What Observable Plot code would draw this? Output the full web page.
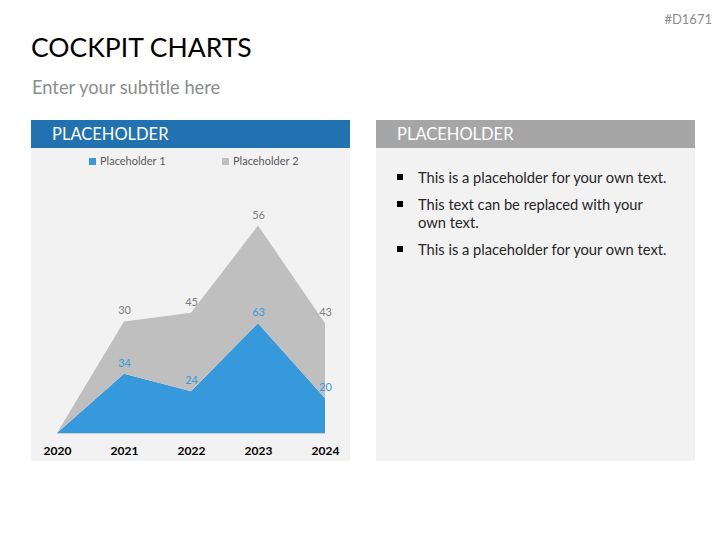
<!DOCTYPE html>
<html>
<head>
<meta charset="utf-8">
<script src="https://cdn.jsdelivr.net/npm/d3@7"></script>
<script src="https://cdn.jsdelivr.net/npm/@observablehq/plot@0.6"></script>
<style>
  html, body { margin: 0; padding: 0; background: #fff; }
  body { width: 727px; height: 545px; position: relative; overflow: hidden; font-family: Lato, "Open Sans", sans-serif; }
  .abs { position: absolute; }
  #code { right: 15px; top: 11px; font-size: 13px; color: #8c8c8c; }
  #title { left: 31px; top: 31px; font-size: 26.5px; color: #000; }
  #subtitle { left: 32px; top: 76px; font-size: 18.3px; color: #8c8c8c; }
  .hdr { top: 120px; height: 28px; width: 319px; color: #fff; font-size: 16.5px; line-height: 28px; box-sizing: border-box; padding-left: 21px; }
  .panel { top: 148px; height: 313px; width: 319px; background: #f2f2f2; }
  #legend { left: 31px; top: 154px; width: 319px; font-size: 11px; color: #595959; }
  #legend span.sw { display: inline-block; width: 7px; height: 7px; margin-right: 4px; vertical-align: 0px; }
  ul { margin: 0; padding: 0 24px 0 0; list-style: none; }
  li { position: relative; padding-left: 42px; font-size: 14.7px; line-height: 18px; color: #262626; margin-bottom: 9px; }
  li::before { content: ""; position: absolute; left: 21px; top: 6px; width: 6px; height: 6px; background: #000; }
</style>
</head>
<body>
<div id="code" class="abs">#D1671</div>
<div id="title" class="abs">COCKPIT CHARTS</div>
<div id="subtitle" class="abs">Enter your subtitle here</div>

<div class="abs hdr" style="left:31px;background:#2271b1;">PLACEHOLDER</div>
<div class="abs panel" style="left:31px;"></div>
<div id="legend" class="abs"></div>
<div id="chart" class="abs" style="left:31px;top:171px;"></div>

<div class="abs hdr" style="left:376px;background:#a6a6a6;">PLACEHOLDER</div>
<div class="abs panel" style="left:376px;">
  <ul style="margin-top:20px;">
    <li>This is a placeholder for your own text.</li>
    <li>This text can be replaced with your own text.</li>
    <li>This is a placeholder for your own text.</li>
  </ul>
</div>

<script>
const years = [2020, 2021, 2022, 2023, 2024];
const seriesNames = ["Placeholder 1", "Placeholder 2"];
const placeholder1 = [0, 34, 24, 63, 20];
const placeholder2 = [0, 30, 45, 56, 43];
const areaColors = ["#3599db", "#bfbfbf"];
const labelColors = ["#3a9ad9", "#7f7f7f"];

const data = [];
years.forEach((y, i) => data.push({year: y, series: seriesNames[0], value: placeholder1[i]}));
years.forEach((y, i) => data.push({year: y, series: seriesNames[1], value: placeholder2[i]}));

// legend
const legend = document.getElementById("legend");
legend.innerHTML = seriesNames.map((s, i) =>
  `<span class="abs" style="left:${i === 0 ? 58 : 191}px;top:0;white-space:nowrap;"><span class="sw" style="background:${areaColors[i]}"></span>${s}</span>`
).join("");

const chart = Plot.plot({
  width: 320,
  height: 290,
  marginLeft: 26,
  marginRight: 26,
  marginTop: 18,
  marginBottom: 28,
  style: { background: "transparent", fontFamily: "Lato, 'Open Sans', sans-serif" },
  x: { domain: [2020, 2024], axis: null },
  y: { domain: [0, 140], axis: null },
  color: { domain: seriesNames, range: areaColors },
  marks: [
    Plot.areaY(data, { x: "year", y: "value", fill: "series", z: "series" }),
    Plot.ruleY([0], { stroke: "#d0d0d0", strokeWidth: 1 }),
    ...seriesNames.map((s, k) =>
      Plot.text(data, Plot.stackY2({
        x: "year", y: "value", z: "series",
        text: d => (d.series === s && d.value > 0) ? String(d.value) : "",
        fill: labelColors[k], fontSize: 11, dy: -11
      }))
    ),
    Plot.axisX({ ticks: years, tickFormat: "d", tickSize: 0, tickPadding: 13, fontWeight: "bold", fontSize: 12, fill: "#000", label: null })
  ]
});
document.getElementById("chart").appendChild(chart);
</script>
</body>
</html>
